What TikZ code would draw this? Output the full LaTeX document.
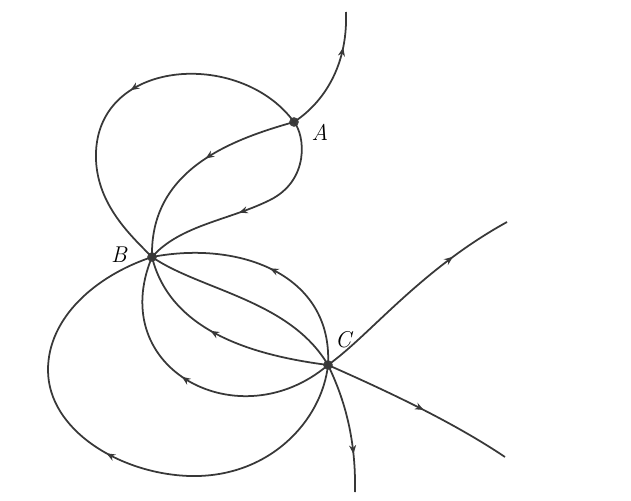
\documentclass[tikz,border=0pt]{standalone}
\usepackage{amsmath}
\usepackage{tikz}
\usetikzlibrary{arrows.meta,decorations.markings,positioning}

\begin{document}
\begin{tikzpicture}[x=0.02cm, y=-0.02cm]
    \tikzset{
        pt/.style       =   { circle
                            , fill=black!75
                            , inner sep=0pt
                            , minimum size=5.5pt
        }
        , lbl/.style    =   { font=\fontsize{13}{15}\selectfont\itshape
        }
        , orbit/.style  =   { line width=1pt
                            , draw=black!78
        }
        , flow/.style   =   { postaction={decorate, decoration={markings,
                              mark=at position #1 with {\arrow{Stealth[length=5pt,width=4pt,fill=black!45]}}}}
        }
    }
    \useasboundingbox (0,0) rectangle (631,500);

    \node(A)[pt] at (294,122) {};
    \node(B)[pt] at (152,257) {};
    \node(C)[pt] at (328,365) {};
    \node(lA)[lbl] at (320,132) {A};
    \node(lB)[lbl] at (119,255) {B};
    \node(lC)[lbl] at (343,340) {C};

    \coordinate(top)   at (346,12);
    \coordinate(ne)    at (507,222);
    \coordinate(se)    at (505,457);
    \coordinate(down)  at (355,492);

    % out of A
    \draw[orbit,flow=0.72] (A.center) .. controls (320,105) and (348,70) .. (top);
    \draw[orbit,flow=0.48] (A.center) .. controls (240,48) and (92,58) .. (96,160)
                                      .. controls (98,205) and (130,235) .. (B.center);
    \draw[orbit,flow=0.45] (A.center) .. controls (230,140) and (150,170) .. (B.center);
    \draw[orbit,flow=0.56] (A.center) .. controls (305,135) and (310,180) .. (270,200)
                                      .. controls (230,220) and (180,225) .. (B.center);

    % C to B
    \draw[orbit,flow=0.5]  (C.center) .. controls (333,275) and (240,240) .. (B.center);
    \draw[orbit]           (B.center) .. controls (200,290) and (290,300) .. (C.center);
    \draw[orbit,flow=0.56] (C.center) .. controls (250,355) and (170,330) .. (B.center);
    \draw[orbit,flow=0.54] (C.center) .. controls (240,440) and (105,370) .. (B.center);
    \draw[orbit,flow=0.51] (C.center) .. controls (322,420) and (270,478) .. (190,476)
                                      .. controls (120,474) and (48,430) .. (48,370)
                                      .. controls (48,318) and (95,276) .. (B.center);

    % out of C
    \draw[orbit,flow=0.71] (C.center) .. controls (345,400) and (356,440) .. (down);
    \draw[orbit,flow=0.72] (C.center) .. controls (370,335) and (420,270) .. (ne);
    \draw[orbit,flow=0.53] (C.center) .. controls (380,388) and (450,420) .. (se);
\end{tikzpicture}
\end{document}
